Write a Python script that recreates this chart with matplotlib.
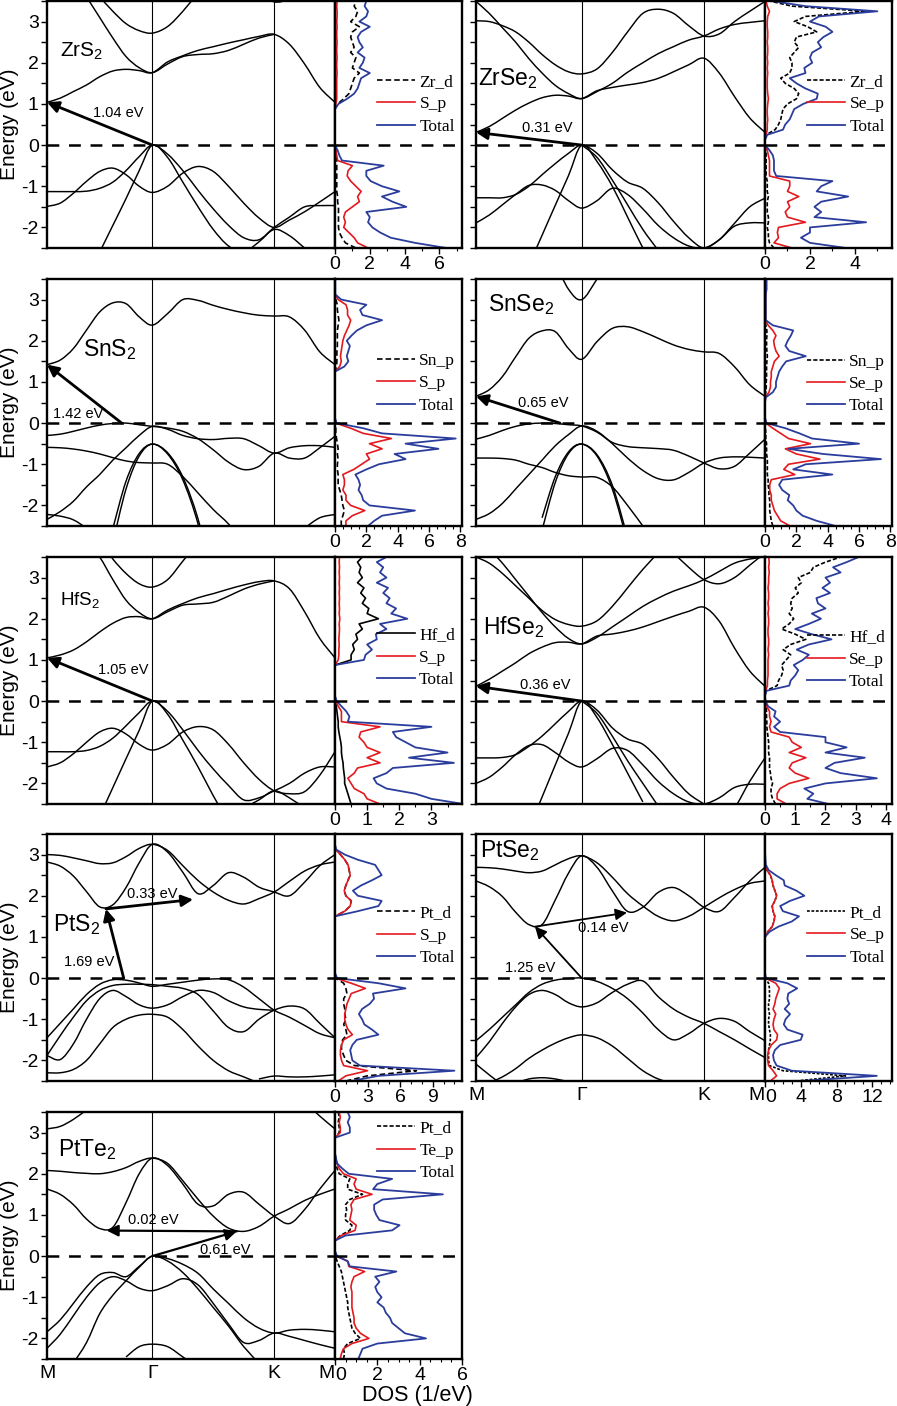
import numpy as np
import matplotlib
matplotlib.use('Agg')
import matplotlib.pyplot as plt
from matplotlib.ticker import MultipleLocator, NullFormatter
from matplotlib.path import Path
from matplotlib.patches import PathPatch

plt.rcParams['font.family'] = ['Liberation Sans', 'DejaVu Sans']
plt.rcParams['mathtext.fontset'] = 'custom'
plt.rcParams['mathtext.rm'] = 'Liberation Sans'
plt.rcParams['mathtext.default'] = 'regular'
plt.rcParams['axes.unicode_minus'] = False
plt.rcParams['lines.scale_dashes'] = False

N = float('nan')

# ---------------- k-path and energy grid ----------------
K_SEG_LEN = [0.577, 0.667, 0.333]          # M-Γ, Γ-K, K-M
K_SEG_PTS = [9, 9, 5]
K_LABELS = ['M', 'Γ', 'K', 'M']
E_STEP = 0.125
E_MIN, E_MAX = -2.5, 3.5

# ---------------- band data (eV) on the k grid ----------------
ZRS2_BANDS = [
    [1.04,1.14,1.30,1.46,1.66,1.80,1.84,1.81,1.76, 2.02,2.17,2.30,2.39,2.48,2.56,2.64,2.69, 2.45,1.97,1.40,1.04],
    [N,N,N,3.6,3.1,2.6,2.15,1.88,1.76, 1.97,2.15,2.2,2.22,2.3,2.45,2.6,2.69, N,N,N,N],
    [N,N,N,N,3.6,3.25,2.95,2.78,2.72, 2.88,3.25,3.7,N,N,N,N,N, N,N,N,N],
    [N,N,N,N,N,N,N,N,N, N,N,N,N,N,N,3.7,3.48, 3.55,3.8,N,N],
    [-1.13,-1.13,-1.13,-1.12,-1.05,-0.9,-0.62,-0.28,0.0, -0.22,-0.62,-1.1,-1.55,-1.95,-2.25,-2.3,-2.0, -1.75,-1.5,-1.47,-1.47],
    [-1.49,-1.41,-1.17,-0.88,-0.64,-0.56,-0.72,-1.0,-1.15, -1.0,-0.68,-0.52,-0.64,-1.0,-1.41,-1.77,-2.0, -1.82,-1.62,-1.38,-1.13],
    [N,N,N,N,-2.6,-1.95,-1.3,-0.62,0.0, -0.3,-0.9,-1.5,-2.05,-2.45,-2.6,-2.35,-2.05, -2.2,-2.5,-2.8,N],
]
ZRSE2_BANDS = [
    [0.31,0.45,0.65,0.85,1.02,1.15,1.21,1.19,1.13, 1.32,1.40,1.46,1.52,1.62,1.78,1.95,2.11, 1.75,1.18,0.66,0.31],
    [3.49,3.2,2.85,2.5,2.1,1.75,1.45,1.25,1.13, 1.3,1.5,1.77,2.0,2.22,2.39,2.55,2.65, 2.82,2.93,2.98,3.02],
    [3.02,3.0,2.9,2.75,2.5,2.2,1.95,1.78,1.73, 1.85,2.25,2.75,3.2,3.3,3.2,2.9,2.65, 2.7,3.0,3.25,3.49],
    [-1.28,-1.28,-1.28,-1.2,-1.0,-0.72,-0.45,-0.2,0.0, -0.2,-0.6,-0.9,-1.05,-1.4,-1.85,-2.25,-2.5, -2.3,-1.97,-1.89,-1.89],
    [-1.89,-1.7,-1.45,-1.2,-0.98,-0.97,-1.1,-1.35,-1.53, -1.35,-1.05,-1.2,-1.55,-1.95,-2.25,-2.45,-2.5, -2.3,-1.9,-1.5,-1.29],
    [N,N,N,N,-2.92,-2.19,-1.46,-0.74,0.0, -0.4,-1.0,-1.75,-2.5,-3.2,N,N,N, N,N,N,N],
    [N,N,N,N,N,N,N,N,0.0, -0.3,-0.85,-1.45,-2.05,-2.55,-3.0,N,N, N,N,N,N],
]
SNS2_BANDS = [
    [1.42,1.53,1.81,2.26,2.7,2.92,2.9,2.58,2.38, 2.66,3.0,2.98,2.86,2.76,2.68,2.62,2.6, 2.58,2.26,1.73,1.42],
    [-0.3,-0.27,-0.2,-0.12,-0.05,-0.01,0.0,-0.04,-0.08, -0.12,-0.2,-0.38,-0.65,-0.95,-1.13,-1.05,-0.73, -0.85,-0.85,-0.6,-0.32],
    [-2.34,-2.15,-1.9,-1.55,-1.25,-0.9,-0.6,-0.3,-0.08, -0.15,-0.3,-0.38,-0.4,-0.37,-0.38,-0.55,-0.73, -0.6,-0.55,-0.55,-0.59],
    [-0.59,-0.6,-0.63,-0.68,-0.75,-0.84,-0.92,-0.96,-0.97, -1.0,-1.3,-1.7,-2.1,-2.45,-2.9,N,N, N,N,N,N],
    [N,N,N,N,N,-2.56,-1.41,-0.74,-0.51, -0.72,-1.31,-2.33,-3.8,N,N,N,N, N,N,N,N],
    [N,N,N,N,N,-2.9,-1.6,-0.8,-0.51, -0.75,-1.38,-2.45,-4.0,N,N,N,N, N,N,N,N],
    [-2.22,-2.26,-2.35,-2.55,N,N,N,N,N, N,N,N,N,N,N,N,N, N,-2.55,-2.3,-2.22],
]
SNSE2_BANDS = [
    [0.65,0.81,1.13,1.61,2.06,2.24,2.22,1.81,1.55, 1.98,2.30,2.34,2.22,2.06,1.9,1.79,1.73, 1.69,1.37,0.93,0.65],
    [N,N,N,N,N,N,3.9,3.25,3.0, 3.5,4.1,N,N,N,N,N,N, N,N,N,N],
    [-0.39,-0.3,-0.18,-0.08,-0.02,0.0,-0.01,-0.04,-0.07, -0.22,-0.47,-0.57,-0.6,-0.62,-0.66,-0.8,-0.97, -1.11,-1.05,-0.73,-0.39],
    [-0.85,-0.85,-0.86,-0.9,-1.0,-1.08,-1.2,-1.28,-1.31, -1.32,-1.55,-2.0,-2.5,N,N,N,N, N,N,N,N],
    [-2.34,-2.2,-1.95,-1.6,-1.25,-0.9,-0.55,-0.28,-0.07, -0.2,-0.5,-0.85,-1.15,-1.35,-1.38,-1.2,-0.97, -0.85,-0.82,-0.83,-0.85],
    [N,N,N,N,N,-2.6,-1.44,-0.74,-0.51, -0.77,-1.51,-2.78,N,N,N,N,N, N,N,N,N],
    [N,N,N,N,N,-2.3,-1.3,-0.7,-0.51, -0.8,-1.6,-2.9,N,N,N,N,N, N,N,N,N],
]
HFS2_BANDS = [
    [1.05,1.12,1.24,1.44,1.68,1.89,2.03,2.05,2.0, 2.21,2.37,2.51,2.61,2.72,2.82,2.9,2.92, 2.73,2.17,1.52,1.05],
    [N,N,N,3.9,3.5,2.95,2.45,2.15,2.0, 2.17,2.33,2.36,2.4,2.55,2.72,2.84,2.92, N,N,N,N],
    [N,N,N,N,3.9,3.45,3.1,2.85,2.77, 2.95,3.4,3.85,N,N,N,N,N, N,N,N,N],
    [-1.23,-1.23,-1.23,-1.2,-1.1,-0.9,-0.6,-0.28,0.0, -0.25,-0.7,-1.2,-1.65,-2.05,-2.4,-2.35,-2.18, -2.0,-1.75,-1.6,-1.6],
    [-1.6,-1.5,-1.28,-1.0,-0.75,-0.66,-0.8,-1.05,-1.19, -1.05,-0.75,-0.62,-0.7,-1.05,-1.5,-1.9,-2.18, -2.25,-2.2,-1.8,-1.23],
    [N,N,N,N,-2.8,-2.1,-1.4,-0.71,0.0, -0.32,-0.95,-1.6,-2.3,-2.95,N,N,N, N,N,N,N],
    [N,N,N,N,N,N,N,N,N, N,N,N,N,N,-2.6,-2.4,-2.18, -2.35,-2.6,N,N],
]
HFSE2_BANDS = [
    [0.36,0.53,0.73,0.93,1.15,1.31,1.42,1.43,1.39, 1.58,1.63,1.7,1.8,1.93,2.06,2.18,2.28, 1.94,1.29,0.73,0.36],
    [N,3.7,3.35,2.95,2.55,2.15,1.8,1.52,1.39, 1.55,1.8,2.05,2.3,2.5,2.67,2.8,2.95, 3.15,3.35,3.45,3.5],
    [3.5,3.35,3.1,2.8,2.5,2.2,1.98,1.86,1.82, 1.95,2.3,2.75,3.2,3.6,N,N,N, N,N,N,N],
    [N,N,N,N,N,N,N,N,N, N,N,N,N,N,3.6,3.25,2.95, 2.85,3.0,3.3,3.6],
    [-1.38,-1.38,-1.37,-1.3,-1.1,-0.85,-0.55,-0.25,0.0, -0.22,-0.65,-0.92,-1.05,-1.4,-1.85,-2.25,-2.5, N,N,N,N],
    [-2.0,-1.85,-1.6,-1.3,-1.08,-1.06,-1.25,-1.48,-1.6, -1.4,-1.15,-1.2,-1.55,-1.95,-2.25,-2.45,-2.5, -2.35,-2.1,-2.02,-2.02],
    [N,N,N,N,-3.1,-2.33,-1.55,-0.78,0.0, -0.4,-1.05,-1.75,-2.45,N,N,N,N, N,N,N,N],
    [N,N,N,N,N,N,N,N,0.0, -0.3,-0.85,-1.45,-2.0,-2.55,N,N,N, N,N,N,N],
    [N,N,N,N,N,N,N,N,N, N,N,N,N,N,N,N,N, -3.0,-2.6,-1.95,-1.38],
]
PTS2_BANDS = [
    [2.82,2.72,2.48,2.1,1.73,1.78,2.2,2.8,3.25, 3.06,2.57,2.05,2.25,2.56,2.45,2.21,2.09, 2.0,2.33,2.73,3.0],
    [3.0,2.98,2.92,2.85,2.78,2.8,2.95,3.15,3.25, 3.1,2.73,2.37,2.09,1.89,1.8,1.93,2.09, 2.35,2.6,2.75,2.82],
    [-1.45,-1.1,-0.75,-0.4,-0.15,-0.04,-0.05,-0.12,-0.2, -0.15,-0.1,-0.05,-0.02,-0.04,-0.22,-0.5,-0.78, -0.95,-1.15,-1.35,-1.45],
    [-1.88,-1.4,-0.95,-0.55,-0.3,-0.18,-0.15,-0.15,-0.16, -0.2,-0.25,-0.4,-0.8,-1.2,-1.3,-1.0,-0.78, -0.68,-0.75,-1.1,-1.45],
    [-1.88,-1.98,-1.6,-1.0,-0.5,-0.3,-0.45,-0.65,-0.73, -0.65,-0.45,-0.3,-0.35,-0.55,-0.7,-0.76,-0.78, N,N,N,N],
    [-2.3,-2.3,-2.22,-2.0,-1.6,-1.2,-1.0,-0.9,-0.88, -0.95,-1.25,-1.65,-2.0,-2.25,-2.4,-2.55,N, N,N,N,N],
    [N,N,N,N,N,N,N,N,N, N,N,N,N,N,N,-2.45,-2.38, -2.4,-2.4,-2.38,-2.35],
]
PTSE2_BANDS = [
    [2.36,2.22,1.98,1.6,1.3,1.3,1.9,2.55,2.97, 2.69,2.12,1.62,1.72,2.08,2.2,2.0,1.72, 1.62,1.96,2.36,2.69],
    [2.69,2.68,2.65,2.6,2.56,2.6,2.75,2.9,2.97, 2.8,2.45,2.05,1.75,1.5,1.39,1.5,1.72, 1.95,2.15,2.3,2.36],
    [-1.52,-1.25,-0.95,-0.65,-0.35,-0.15,-0.05,-0.01,0.0, -0.08,-0.25,-0.5,-0.85,-1.25,-1.5,-1.35,-1.1, -0.98,-1.05,-1.3,-1.52],
    [-1.93,-1.55,-1.1,-0.7,-0.4,-0.3,-0.4,-0.6,-0.7, -0.6,-0.35,-0.15,-0.07,-0.45,-0.75,-0.95,-1.1, -1.3,-1.5,-1.72,-1.93],
    [N,-2.55,-2.4,-2.2,-1.95,-1.75,-1.58,-1.45,-1.38, -1.45,-1.65,-1.95,-2.25,-2.45,-2.55,N,N, N,N,N,N],
    [-2.09,-2.35,-2.6,N,N,N,N,N,N, N,N,N,N,N,N,N,N, N,N,N,N],
    [N,N,N,-2.55,-2.45,-2.42,-2.45,-2.52,N, N,N,N,N,N,N,N,N, N,N,N,N],
]
PTTE2_BANDS = [
    [1.63,1.5,1.25,0.9,0.67,0.7,1.3,2.0,2.38, 2.2,1.75,1.26,1.22,1.5,1.55,1.26,0.97, 0.79,1.13,1.63,2.08],
    [2.08,2.06,2.03,2.01,2.0,2.05,2.15,2.3,2.38, 2.25,1.83,1.38,0.97,0.68,0.6,0.72,0.97, 1.15,1.35,1.5,1.63],
    [3.09,3.15,3.32,3.55,N,N,N,N,N, N,N,N,N,N,N,N,N, N,3.75,3.4,3.09],
    [-1.84,-1.55,-1.15,-0.75,-0.45,-0.4,-0.5,-0.25,0.0, -0.06,-0.2,-0.42,-0.8,-1.15,-1.5,-1.75,-1.87, -1.8,-1.78,-1.8,-1.84],
    [-2.24,-1.9,-1.45,-1.0,-0.65,-0.5,-0.6,-0.78,-0.84, -0.72,-0.55,-0.7,-1.15,-1.65,-2.1,-2.05,-1.87, -1.95,-2.05,-2.15,-2.24],
    [N,N,-2.6,-2.1,-1.4,-0.95,-0.6,-0.27,0.0, -0.12,-0.4,-0.8,-1.25,-1.7,-2.2,-2.6,N, N,N,N,N],
    [N,N,N,N,N,N,-2.45,-2.2,-2.14, -2.2,-2.45,-2.7,N,N,N,N,N, N,N,N,N],
]

# ---------------- DOS data (1/eV) on the energy grid -2.5 ... 3.5 ----------------
ZRS2_TOT = [6.4,4.6,3.2,2.6,2.15,1.9,2.0,1.8,4.1,3.3,2.7,3.7,2.7,2.05,1.8,1.8,2.8,0.4,0.25,0.15,0.0,
            0,0,0,0,0,0,0,
            0.2,0.7,1.1,1.3,1.4,1.5,2.0,1.4,1.6,1.7,1.3,1.6,1.4,1.3,1.5,2.0,1.4,1.8,1.9,1.7,1.8]
ZRS2_P = [1.9,1.3,1.1,0.8,0.5,0.6,0.5,0.6,1.0,1.4,1.3,1.5,1.2,0.9,0.7,0.75,1.0,0.15,0.1,0.05,0.0,
          0,0,0,0,0,0,0,
          0.05,0.1,0.1,0.1,0.1,0.1,0.12,0.1,0.1,0.12,0.1,0.1,0.12,0.1,0.1,0.12,0.1,0.12,0.12,0.1,0.12]
ZRS2_D = [1.2,0.6,0.4,0.25,0.2,0.2,0.2,0.2,0.2,0.15,0.15,0.1,0.1,0.1,0.1,0.1,0.1,0.1,0.05,0.05,0.0,
          0,0,0,0,0,0,0,
          0.15,0.5,0.8,0.9,1.0,1.1,1.4,1.0,1.1,1.2,0.9,1.1,1.0,0.9,1.0,1.4,0.9,1.2,1.3,1.1,1.2]

ZRSE2_TOT = [3.6,2.0,1.6,2.0,2.0,4.5,2.2,2.5,2.2,2.5,3.7,2.3,2.5,3.0,0.5,0.4,0.4,0.4,0.35,0.2,0.0,
             0,0.1,
             0.8,0.9,1.1,1.2,1.3,1.7,2.3,2.35,1.8,1.4,1.1,1.8,1.75,2.1,2.0,2.1,2.5,2.35,2.6,3.0,2.7,2.0,2.4,5.0,1.8,0.3]
ZRSE2_P = [1.2,0.4,0.6,0.55,0.6,1.8,1.0,0.9,1.1,1.0,1.5,1.0,1.1,1.1,0.2,0.2,0.2,0.2,0.15,0.1,0.0,
           0,0.05,
           0.1,0.1,0.12,0.1,0.1,0.12,0.15,0.12,0.1,0.1,0.1,0.12,0.1,0.12,0.1,0.12,0.12,0.1,0.12,0.12,0.1,0.1,0.12,0.2,0.1,0.05]
ZRSE2_D = [0.4,0.2,0.15,0.15,0.1,0.15,0.15,0.1,0.1,0.1,0.15,0.1,0.1,0.1,0.05,0.05,0.05,0.05,0.05,0.05,0.0,
           0,0.05,
           0.45,0.6,0.7,0.75,0.8,1.0,1.4,1.5,1.3,0.9,0.7,1.1,1.2,1.2,1.1,1.3,1.5,1.3,1.4,2.3,1.9,1.3,1.8,4.5,1.2,0.2]

SNS2_TOT = [2.1,2.5,3.0,5.1,2.2,1.8,1.7,1.5,1.6,1.5,1.3,2.0,2.8,4.5,3.8,6.6,4.5,7.7,3.0,1.8,0.1,
            0,0,0,0,0,0,0,0,0,0,
            0.6,0.85,0.75,0.85,0.95,0.75,1.05,1.4,2.0,3.0,1.75,1.6,2.0,0.4,0.02,0.02,0.02,0.02]
SNS2_P = [0.7,0.7,1.1,1.9,1.0,0.7,0.7,0.5,0.6,0.6,0.5,1.2,1.7,2.2,2.0,3.0,2.2,3.6,1.8,1.0,0.05,
          0,0,0,0,0,0,0,0,0,0,
          0.3,0.4,0.35,0.4,0.45,0.5,0.6,0.75,0.9,1.0,0.8,0.8,0.7,0.2,0,0,0,0]
SNS2_SNP = [0.4,0.4,0.5,0.6,0.5,0.45,0.4,0.3,0.2,0.2,0.2,0.15,0.15,0.2,0.15,0.2,0.15,0.1,0.05,0.05,0.0,
            0,0,0,0,0,0,0,0,0,0,
            0.1,0.12,0.12,0.12,0.15,0.15,0.15,0.15,0.2,0.25,0.2,0.15,0.15,0.05,0,0,0,0]

SNSE2_TOT = [4.5,3.3,2.4,2.0,1.8,1.45,1.55,1.1,0.9,1.1,4.3,1.8,2.6,7.4,3.7,1.5,6.0,3.0,2.2,1.3,0.1,
             0,0,0,0,0.05,
             0.5,0.7,0.7,0.8,0.9,1.1,1.35,2.6,1.55,1.3,1.45,1.65,1.8,0.5,0.05,0.05,0.05,0.05,0.05,0.05,0.1,0.1,0.1]
SNSE2_P = [1.6,1.0,0.8,0.6,0.5,0.4,0.4,0.3,0.3,0.4,1.9,1.2,1.5,3.5,2.0,1.3,2.9,1.5,1.0,0.5,0.05,
           0,0,0,0,0.03,
           0.25,0.35,0.35,0.4,0.4,0.5,0.6,0.9,0.7,0.6,0.55,0.7,0.5,0.2,0.03,0.03,0.03,0.03,0.03,0.05,0.08,0.08,0.08]
SNSE2_SNP = [0.5,0.4,0.35,0.3,0.3,0.3,0.25,0.25,0.2,0.2,0.15,0.15,0.15,0.15,0.1,0.1,0.1,0.05,0.05,0.03,0.0,
             0,0,0,0,0,
             0.05,0.08,0.08,0.1,0.1,0.1,0.12,0.15,0.12,0.1,0.1,0.12,0.12,0.05,0.02,0.02,0.02,0.02,0.02,0.02,0.02,0.02,0.02]

HFS2_TOT = [4.0,3.0,2.5,1.6,1.3,1.2,1.6,1.8,3.7,2.3,3.5,2.5,2.2,1.9,1.8,3.0,0.4,0.45,0.35,0.2,0.05,
            0,0,0,0,0,0,0,
            0.9,0.95,1.15,1.0,1.3,1.27,1.6,1.4,2.25,1.75,1.9,1.6,1.7,1.5,1.65,1.3,1.6,1.4,1.5,1.3,1.6]
HFS2_P = [1.4,1.0,0.9,0.6,0.5,0.4,0.6,0.7,1.4,1.0,1.4,1.0,0.9,0.75,0.8,1.4,0.2,0.2,0.2,0.1,0.02,
          0,0,0,0,0,0,0,
          0.1,0.12,0.12,0.13,0.12,0.13,0.14,0.13,0.15,0.13,0.14,0.13,0.14,0.13,0.14,0.13,0.14,0.13,0.14,0.13,0.14]
HFS2_D = [0.5,0.45,0.4,0.35,0.3,0.3,0.28,0.26,0.25,0.22,0.2,0.2,0.18,0.15,0.12,0.1,0.1,0.08,0.06,0.04,0.02,
          0,0,0,0,0,0,0,
          0.5,0.5,0.6,0.55,0.7,0.65,0.85,0.75,1.35,1.0,1.05,0.85,0.95,0.8,0.9,0.7,0.85,0.75,0.8,0.7,0.85]

HFSE2_TOT = [2.1,1.4,1.6,1.3,2.0,3.7,2.5,2.0,2.3,3.3,2.0,2.7,2.0,2.0,0.5,0.3,0.5,0.3,0.35,0.1,0.02,
             0,0.05,
             0.8,0.85,1.0,1.1,0.95,1.25,1.45,1.05,1.45,2.2,1.55,1.0,1.45,1.85,1.55,2.0,1.75,1.7,2.15,1.9,2.15,2.0,2.5,2.25,2.7,3.1]
HFSE2_P = [0.7,0.4,0.4,0.5,0.8,1.45,1.0,0.8,0.9,1.35,0.8,1.2,0.9,0.8,0.2,0.15,0.2,0.15,0.15,0.05,0.01,
           0,0.02,
           0.08,0.08,0.1,0.1,0.1,0.1,0.12,0.1,0.12,0.12,0.1,0.1,0.12,0.12,0.1,0.12,0.1,0.12,0.12,0.1,0.12,0.12,0.14,0.12,0.14,0.12]
HFSE2_D = [0.35,0.25,0.2,0.2,0.25,0.2,0.18,0.15,0.15,0.15,0.12,0.12,0.12,0.1,0.08,0.06,0.06,0.05,0.05,0.03,0.01,
           0,0.03,
           0.4,0.45,0.55,0.6,0.55,0.7,0.85,0.6,0.85,1.35,1.0,0.55,0.8,0.95,0.8,0.9,0.85,0.9,1.1,1.0,1.2,1.1,1.5,1.6,2.0,2.5]

PTS2_TOT = [1.5,4.0,11.0,2.3,1.6,1.5,1.4,1.6,2.0,4.0,3.4,2.7,2.5,2.2,2.5,3.2,3.6,3.5,6.5,4.0,0.2,
            0,0,0,0,0,0,0,0,0,0,0,0,
            2.1,4.0,4.3,2.1,1.65,2.4,3.4,4.3,4.0,3.7,2.1,0.9,0.1,0,0,0]
PTS2_P = [0.3,1.0,3.0,0.8,0.6,0.5,0.5,0.6,0.8,1.6,1.2,1.0,0.9,0.9,1.0,1.1,1.3,1.5,2.8,1.5,0.05,
          0,0,0,0,0,0,0,0,0,0,0,0,
          0.9,1.4,1.5,1.0,0.85,1.0,1.2,1.4,1.3,1.2,0.9,0.5,0.05,0,0,0]
PTS2_D = [1.0,3.0,7.5,1.8,1.0,0.8,0.6,0.6,0.7,1.1,1.0,0.8,1.0,0.9,0.9,0.8,0.8,1.1,1.0,0.8,0.05,
          0,0,0,0,0,0,0,0,0,0,0,0,
          0.9,1.4,1.5,1.0,0.85,1.0,1.2,1.4,1.3,1.2,0.9,0.5,0.05,0,0,0]

PTSE2_TOT = [4.0,12.5,3.0,1.3,1.0,0.9,1.1,1.7,4.0,4.2,2.5,2.1,2.3,2.8,2.2,2.7,2.5,2.6,3.6,2.5,0.1,
             0,0,0,0,0,0,0,0,
             0.5,1.5,3.0,3.8,2.0,1.7,2.8,4.4,3.5,2.2,2.1,1.2,0.4,0.1,0.05,0.02,0,0,0,0]
PTSE2_P = [0.6,1.3,0.9,0.4,0.3,0.3,0.4,0.7,1.3,1.4,1.0,0.9,1.0,1.2,0.9,1.1,1.2,1.4,1.6,1.2,0.05,
           0,0,0,0,0,0,0,0,
           0.3,0.8,1.0,1.1,0.9,0.8,1.1,1.3,1.1,0.9,0.8,0.6,0.2,0.02,0,0,0,0,0,0]
PTSE2_D = [3.5,9.0,2.0,0.5,0.4,0.4,0.4,0.5,0.6,0.6,0.5,0.4,0.4,0.5,0.4,0.4,0.5,0.5,0.5,0.4,0.02,
           0,0,0,0,0,0,0,0,
           0.3,0.8,1.0,1.1,0.9,0.8,1.1,1.3,1.1,0.9,0.8,0.6,0.2,0.02,0,0,0,0,0,0]

PTTE2_TOT = [1.1,1.2,1.3,2.0,4.3,3.3,3.0,2.7,2.6,2.4,2.3,2.0,2.2,2.0,1.9,2.1,1.9,2.9,0.7,0.6,0.1,
             0,0,0,
             0.5,2.7,3.05,2.1,1.95,1.85,1.85,2.25,5.1,1.8,2.0,2.7,0.65,0.35,0.1,0.05,0,0,0,0,0.7,0.7,0.6,0.7,0.6]
PTTE2_P = [0.25,0.3,0.4,0.8,1.6,1.2,1.0,0.9,0.9,0.85,0.8,0.8,0.8,0.8,0.75,0.8,0.9,1.4,0.65,0.6,0.05,
           0,0,0,
           0.3,0.95,1.0,0.7,0.75,0.8,0.75,0.9,1.75,1.0,0.9,1.0,0.4,0.2,0.1,0.03,0,0,0,0,0.25,0.25,0.2,0.25,0.2]
PTTE2_D = [0.4,0.45,0.4,0.6,1.2,0.95,0.8,0.75,0.7,0.65,0.6,0.6,0.55,0.5,0.45,0.4,0.35,0.3,0.2,0.1,0.02,
           0,0,0,
           0.25,0.7,0.8,0.5,0.5,0.55,0.5,0.7,1.3,0.6,0.6,0.7,0.2,0.1,0.05,0.02,0,0,0,0,0.2,0.2,0.15,0.2,0.15]

# gap arrows: (tail k, tail E) -> (head k, head E) and labels
ZRS2_ARROWS = [((0.577, 0.0), (0.0, 1.04))]
ZRSE2_ARROWS = [((0.577, 0.0), (0.0, 0.31))]
SNS2_ARROWS = [((0.409, 0.0), (0.0, 1.42))]
SNSE2_ARROWS = [((0.458, 0.0), (0.0, 0.65))]
HFS2_ARROWS = [((0.577, 0.0), (0.0, 1.05))]
HFSE2_ARROWS = [((0.577, 0.0), (0.0, 0.36))]
PTS2_ARROWS = [((0.42, 0.0), (0.323, 1.68)), ((0.323, 1.68), (0.80, 1.91))]
PTSE2_ARROWS = [((0.577, 0.0), (0.322, 1.25)), ((0.322, 1.25), (0.824, 1.59))]
PTTE2_ARROWS = [((0.577, 0.0), (1.039, 0.60)), ((1.039, 0.60), (0.327, 0.62))]

ZRS2_GAPS = [('1.04 eV', 0.389, 0.78)]
ZRSE2_GAPS = [('0.31 eV', 0.387, 0.41)]
SNS2_GAPS = [('1.42 eV', 0.17, 0.23)]
SNSE2_GAPS = [('0.65 eV', 0.366, 0.49)]
HFS2_GAPS = [('1.05 eV', 0.42, 0.75)]
HFSE2_GAPS = [('0.36 eV', 0.377, 0.40)]
PTS2_GAPS = [('1.69 eV', 0.23, 0.40), ('0.33 eV', 0.575, 2.05)]
PTSE2_GAPS = [('1.25 eV', 0.295, 0.25), ('0.14 eV', 0.693, 1.22)]
PTTE2_GAPS = [('0.61 eV', 0.975, 0.15), ('0.02 eV', 0.58, 0.88)]

# ---------------- layout / styles ----------------
W, H = 897, 1406
ROW_TOP = [1, 279, 557, 834, 1112]
ROW_H = 247
COL_X = [(47, 335, 462), (476, 765, 892)]

RED = '#E3191E'
BLUE = '#2B3D9C'

PANELS = [
    dict(col=0, row=0, title=r'ZrS$_2$', tpos=(0.07, 2.28), tsize=15, bands=ZRS2_BANDS,
         dos=(ZRS2_D, ZRS2_P, ZRS2_TOT), labels=('Zr_d', 'S_p', 'Total'), dstyle=(0, (4, 2.2)),
         xmax=7.3, major=2, minor=1, leg_top=1.73, arrows=ZRS2_ARROWS, gaps=ZRS2_GAPS, alw=2.0),
    dict(col=1, row=0, title=r'ZrSe$_2$', tpos=(0.01, 1.62), tsize=16.5, bands=ZRSE2_BANDS,
         dos=(ZRSE2_D, ZRSE2_P, ZRSE2_TOT), labels=('Zr_d', 'Se_p', 'Total'), dstyle=(0, (3, 1.5)),
         xmax=5.65, major=2, minor=1, leg_top=1.73, arrows=ZRSE2_ARROWS, gaps=ZRSE2_GAPS, alw=2.0),
    dict(col=0, row=1, title=r'SnS$_2$', tpos=(0.195, 1.78), tsize=16.5, bands=SNS2_BANDS,
         dos=(SNS2_SNP, SNS2_P, SNS2_TOT), labels=('Sn_p', 'S_p', 'Total'), dstyle=(0, (4, 2.2)),
         xmax=8.1, major=2, minor=0.5, leg_top=1.71, arrows=SNS2_ARROWS, gaps=SNS2_GAPS, alw=2.0),
    dict(col=1, row=1, title=r'SnSe$_2$', tpos=(0.065, 2.88), tsize=16.5, bands=SNSE2_BANDS,
         dos=(SNSE2_SNP, SNSE2_P, SNSE2_TOT), labels=('Sn_p', 'Se_p', 'Total'), dstyle=(0, (3, 1.5)),
         xmax=8.1, major=2, minor=0.5, leg_top=1.69, arrows=SNSE2_ARROWS, gaps=SNSE2_GAPS, alw=2.0),
    dict(col=0, row=2, title=r'HfS$_2$', tpos=(0.07, 2.46), tsize=13.5, bands=HFS2_BANDS,
         dos=(HFS2_D, HFS2_P, HFS2_TOT), labels=('Hf_d', 'S_p', 'Total'), dstyle='-',
         xmax=3.95, major=1, minor=0.5, leg_top=1.79, arrows=HFS2_ARROWS, gaps=HFS2_GAPS, alw=2.0),
    dict(col=1, row=2, title=r'HfSe$_2$', tpos=(0.04, 1.80), tsize=16.5, bands=HFSE2_BANDS,
         dos=(HFSE2_D, HFSE2_P, HFSE2_TOT), labels=('Hf_d', 'Se_p', 'Total'), dstyle=(0, (3, 1.5)),
         xmax=4.2, major=1, minor=0.5, leg_top=1.75, arrows=HFSE2_ARROWS, gaps=HFSE2_GAPS, alw=2.0),
    dict(col=0, row=3, title=r'PtS$_2$', tpos=(0.033, 1.30), tsize=16.5, bands=PTS2_BANDS,
         dos=(PTS2_D, PTS2_P, PTS2_TOT), labels=('Pt_d', 'S_p', 'Total'), dstyle=(0, (4, 2.2)),
         xmax=11.7, major=3, minor=1, leg_top=1.77, arrows=PTS2_ARROWS, gaps=PTS2_GAPS, alw=2.0),
    dict(col=1, row=3, title=r'PtSe$_2$', tpos=(0.02, 3.10), tsize=16.5, bands=PTSE2_BANDS,
         dos=(PTSE2_D, PTSE2_P, PTSE2_TOT), labels=('Pt_d', 'Se_p', 'Total'), dstyle=(0, (2, 1.2)),
         xmax=14.2, major=4, minor=1, leg_top=1.78, arrows=PTSE2_ARROWS, gaps=PTSE2_GAPS, alw=1.3,
         klabels=True),
    dict(col=0, row=4, title=r'PtTe$_2$', tpos=(0.06, 2.60), tsize=16.5, bands=PTTE2_BANDS,
         dos=(PTTE2_D, PTTE2_P, PTTE2_TOT), labels=('Pt_d', 'Te_p', 'Total'), dstyle=(0, (3, 1.5)),
         xmax=6.0, major=2, minor=0.5, leg_top=3.30, arrows=PTTE2_ARROWS, gaps=PTTE2_GAPS, alw=1.6,
         klabels=True, doslabel=True),
]

# k coordinates of the grid
K_TICKS = np.concatenate([[0.0], np.cumsum(K_SEG_LEN)])
K = np.concatenate([np.linspace(K_TICKS[0], K_TICKS[1], K_SEG_PTS[0]),
                    np.linspace(K_TICKS[1], K_TICKS[2], K_SEG_PTS[1])[1:],
                    np.linspace(K_TICKS[2], K_TICKS[3], K_SEG_PTS[2])[1:]])
E_GRID = np.linspace(E_MIN, E_MAX, int(round((E_MAX - E_MIN) / E_STEP)) + 1)


def rect(x0, x1, ytop, ybot):
    return [x0 / W, 1 - ybot / H, (x1 - x0) / W, (ybot - ytop) / H]


def band_path(x, y):
    """Smooth (Catmull-Rom as cubic Bezier) path through the read band points."""
    x = np.asarray(x, float)
    y = np.asarray(y, float)
    verts, codes = [], []
    ok = ~np.isnan(y)
    i = 0
    n = len(y)
    while i < n:
        if not ok[i]:
            i += 1
            continue
        j = i
        while j + 1 < n and ok[j + 1]:
            j += 1
        pts = np.column_stack([x[i:j + 1], y[i:j + 1]])
        if len(pts) >= 2:
            ext = np.vstack([pts[0], pts, pts[-1]])
            verts.append(pts[0])
            codes.append(Path.MOVETO)
            for m in range(len(pts) - 1):
                p0, p1, p2, p3 = ext[m], ext[m + 1], ext[m + 2], ext[m + 3]
                verts += [p1 + (p2 - p0) / 6.0, p2 - (p3 - p1) / 6.0, p2]
                codes += [Path.CURVE4] * 3
        i = j + 1
    return Path(verts, codes)


fig = plt.figure(figsize=(W / 100, H / 100), dpi=100)
SPINE_LW = 1.7

for p in PANELS:
    xb0, xb1, xd1 = COL_X[p['col']]
    yt = ROW_TOP[p['row']]
    yb = yt + ROW_H
    axb = fig.add_axes(rect(xb0, xb1, yt, yb))
    axd = fig.add_axes(rect(xb1, xd1, yt, yb))

    # ---- band structure ----
    for band in p['bands']:
        assert len(band) == len(K), (p['title'], len(band))
        axb.add_patch(PathPatch(band_path(K, band), fill=False, edgecolor='k', lw=1.05))
    for kx in K_TICKS[1:3]:
        axb.axvline(kx, color='k', lw=0.8)
    axb.axhline(0, color='k', lw=1.8, dashes=(8.5, 7.0))
    axb.set_xlim(K_TICKS[0], K_TICKS[-1])
    axb.set_ylim(E_MIN, E_MAX)
    for s in axb.spines.values():
        s.set_linewidth(SPINE_LW)
    if p['col'] == 0:
        axb.yaxis.set_major_locator(MultipleLocator(1))
        axb.yaxis.set_minor_locator(MultipleLocator(0.5))
        axb.tick_params(axis='y', which='both', direction='out', length=4, width=1.0,
                        labelsize=14, pad=2)
        axb.set_ylabel('Energy (eV)', fontsize=15, labelpad=2)
    else:
        axb.yaxis.set_major_locator(MultipleLocator(0.5))
        axb.yaxis.set_major_formatter(NullFormatter())
        axb.tick_params(axis='y', which='both', direction='out', length=4.5, width=1.0)
    if p.get('klabels'):
        axb.set_xticks(K_TICKS)
        axb.set_xticklabels(K_LABELS)
        axb.tick_params(axis='x', length=0, labelsize=14, pad=4)
        tl = axb.get_xticklabels()
        tl[-1].set_ha('right')
    else:
        axb.set_xticks([])

    axb.text(p['tpos'][0], p['tpos'][1], p['title'], fontsize=p['tsize'], va='center', ha='left')
    for (tail, head) in p['arrows']:
        axb.annotate('', xy=head, xytext=tail,
                     arrowprops=dict(arrowstyle='-|>', color='k', lw=p['alw'],
                                     mutation_scale=17, shrinkA=0, shrinkB=0),
                     annotation_clip=False)
    for (txt, kx, ey) in p['gaps']:
        axb.text(kx, ey, txt, fontsize=10.5, ha='center', va='center')

    # ---- DOS ----
    d, pp, tot = p['dos']
    for arr in (d, pp, tot):
        assert len(arr) == len(E_GRID), (p['title'], len(arr))
    axd.plot(d, E_GRID, color='k', lw=1.2, linestyle=p['dstyle'], label=p['labels'][0])
    axd.plot(pp, E_GRID, color=RED, lw=1.2, label=p['labels'][1])
    axd.plot(tot, E_GRID, color=BLUE, lw=1.3, label=p['labels'][2])
    axd.axhline(0, color='k', lw=1.8, dashes=(8.5, 7.0))
    axd.set_ylim(E_MIN, E_MAX)
    axd.set_xlim(0, p['xmax'])
    axd.set_yticks([])
    axd.xaxis.set_major_locator(MultipleLocator(p['major']))
    axd.xaxis.set_minor_locator(MultipleLocator(p['minor']))
    axd.tick_params(axis='x', which='major', direction='out', length=4, width=1.0,
                    labelsize=14, pad=2)
    axd.tick_params(axis='x', which='minor', direction='out', length=2.5, width=0.8)
    for s in axd.spines.values():
        s.set_linewidth(SPINE_LW)
    if p.get('klabels'):
        fig.canvas.draw()
        for lab in axd.get_xticklabels():
            if lab.get_text() == '0':
                lab.set_ha('left')
    axd.legend(loc='upper right', bbox_to_anchor=(0.945, (p['leg_top'] - E_MIN) / (E_MAX - E_MIN)),
               frameon=False, borderpad=0, borderaxespad=0, handlelength=2.2,
               handletextpad=0.25, labelspacing=0.36,
               prop={'family': 'Liberation Serif', 'size': 12.5})
    if p.get('doslabel'):
        fig.text(417 / W, 1 - 1395 / H, 'DOS (1/eV)', fontsize=15.5, ha='center', va='center')

fig.savefig('out.png', dpi=100)
